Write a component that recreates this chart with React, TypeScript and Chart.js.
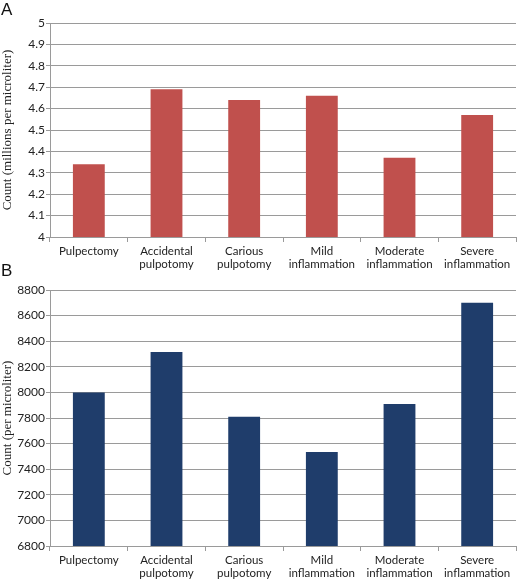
import React, { useRef, useEffect } from "react";
import { Chart, registerables } from "chart.js";

Chart.register(...registerables);

const categories = [
  ["Pulpectomy"],
  ["Accidental", "pulpotomy"],
  ["Carious", "pulpotomy"],
  ["Mild", "inflammation"],
  ["Moderate", "inflammation"],
  ["Severe", "inflammation"],
];
const rbcCounts = [4.34, 4.69, 4.64, 4.66, 4.37, 4.57];
const wbcCounts = [8000, 8315, 7810, 7535, 7910, 8700];

const yTickFont = { family: "Lato, 'Open Sans', sans-serif", size: 12 };
const xTickFont = { family: "Lato, 'Open Sans', sans-serif", size: 11.5, lineHeight: 1.2 };
const titleFont = { family: "'Liberation Serif', 'DejaVu Serif', serif", size: 13 };
const gridGray = "#9a9a9a";

const makeConfig = (
  values: number[],
  color: string,
  yTitle: string,
  min: number,
  max: number,
  step: number,
  digits: number,
  padding: { top: number; bottom: number; left: number; right: number },
  xHeight: number
): any => ({
  type: "bar",
  data: {
    labels: categories,
    datasets: [
      {
        data: values,
        backgroundColor: color,
        borderWidth: 0,
        barPercentage: 0.41,
        categoryPercentage: 1,
      },
    ],
  },
  options: {
    animation: false,
    responsive: true,
    maintainAspectRatio: false,
    layout: { padding },
    plugins: {
      legend: { display: false },
      tooltip: { enabled: false },
    },
    scales: {
      x: {
        afterFit: (scale: any) => {
          scale.height = xHeight;
        },
        grid: {
          drawOnChartArea: false,
          drawTicks: true,
          tickLength: 5,
          color: gridGray,
          offset: true,
        },
        border: { display: true, color: gridGray },
        ticks: {
          color: "#222",
          font: xTickFont,
          padding: 2,
          maxRotation: 0,
          autoSkip: false,
        },
      },
      y: {
        min,
        max,
        afterFit: (scale: any) => {
          scale.width = 50;
        },
        grid: {
          color: gridGray,
          lineWidth: 1,
          drawTicks: true,
          tickLength: 4,
        },
        border: { display: true, color: gridGray },
        ticks: {
          stepSize: step,
          color: "#222",
          font: yTickFont,
          padding: 1,
          callback: (v: any) => Number(Number(v).toFixed(digits)).toString(),
        },
        title: {
          display: true,
          text: yTitle,
          color: "#222",
          font: titleFont,
          padding: { top: 0, bottom: 0 },
        },
      },
    },
  },
});

const BarPanel = ({ config, top, height }: { config: any; top: number; height: number }) => {
  const ref = useRef<HTMLCanvasElement>(null);
  useEffect(() => {
    if (!ref.current) return;
    const chart = new Chart(ref.current, config);
    return () => {
      chart.destroy();
    };
  }, [config]);
  return (
    <div style={{ position: "absolute", left: 0, top, width: 520, height }}>
      <canvas ref={ref} />
    </div>
  );
};

const configA = makeConfig(
  rbcCounts,
  "#c0504d",
  "Count (millions per microliter)",
  4,
  5,
  0.1,
  1,
  { top: 23, bottom: 7, left: 0, right: 4 },
  36
);
const configB = makeConfig(
  wbcCounts,
  "#1f3d6b",
  "Count (per microliter)",
  6800,
  8800,
  200,
  0,
  { top: 10, bottom: 0, left: 0, right: 4 },
  34
);

const panelLabel: React.CSSProperties = {
  position: "absolute",
  left: 1,
  fontFamily: "'Liberation Sans', Arial, sans-serif",
  fontSize: 17,
  color: "#111",
  lineHeight: 1,
};

export default function App() {
  return (
    <div
      style={{
        position: "absolute",
        left: 0,
        top: 0,
        width: 520,
        height: 580,
        background: "#fff",
        overflow: "hidden",
      }}
    >
      <BarPanel config={configA} top={0} height={280} />
      <BarPanel config={configB} top={280} height={300} />
      <div style={{ ...panelLabel, top: 1 }}>A</div>
      <div style={{ ...panelLabel, top: 262 }}>B</div>
    </div>
  );
}
